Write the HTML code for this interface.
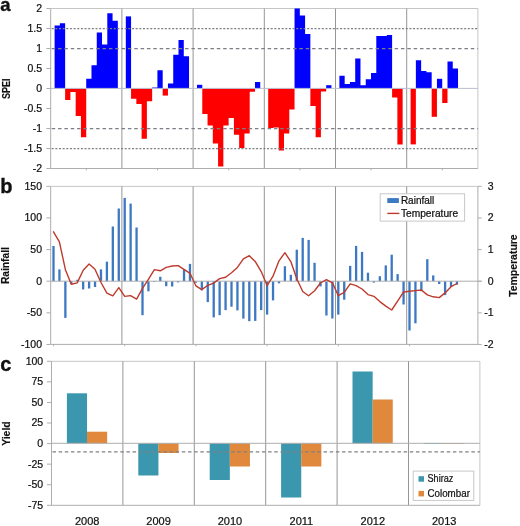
<!DOCTYPE html>
<html><head><meta charset="utf-8"><title>SPEI, rainfall, temperature and yield</title>
<style>html,body{margin:0;padding:0;background:#fff}svg{display:block}text{font-family:"Liberation Sans",sans-serif;fill:#111}.t,.x,.lg{stroke:#111;stroke-width:0.22px}.t{font-size:10.5px}.x{font-size:11px}.b{font-weight:bold;font-size:10.4px;stroke:#111;stroke-width:0.15px}.L{font-weight:bold;font-size:18.5px;fill:#111;stroke:#111;stroke-width:0.35px}.lg{font-size:10px}</style></head><body>
<svg width="520" height="526" viewBox="0 0 520 526">
<rect width="520" height="526" fill="#fff"/>
<g id="panel-a">
<path d="M50.7 8.5H477.90000000000003V168.5" fill="none" stroke="#c6c6c6" stroke-width="1"/>
<line x1="121.9" y1="8.5" x2="121.9" y2="168.5" stroke="#969696" stroke-width="1"/>
<line x1="193.1" y1="8.5" x2="193.1" y2="168.5" stroke="#969696" stroke-width="1"/>
<line x1="264.3" y1="8.5" x2="264.3" y2="168.5" stroke="#969696" stroke-width="1"/>
<line x1="335.5" y1="8.5" x2="335.5" y2="168.5" stroke="#969696" stroke-width="1"/>
<line x1="406.7" y1="8.5" x2="406.7" y2="168.5" stroke="#969696" stroke-width="1"/>
<path d="M54.60 88.40L54.60 25.40L59.87 25.40L59.87 23.20L65.14 23.20L65.14 88.40Z" fill="#0000fe"/>
<path d="M65.14 88.40L65.14 100.00L70.41 100.00L70.41 92.00L75.68 92.00L75.68 116.00L80.95 116.00L80.95 137.20L86.22 137.20L86.22 88.40Z" fill="#fe0000"/>
<path d="M86.22 88.40L86.22 78.80L91.49 78.80L91.49 65.20L96.76 65.20L96.76 32.40L102.03 32.40L102.03 44.40L107.30 44.40L107.30 13.20L112.57 13.20L112.57 20.80L117.84 20.80L117.84 88.40Z" fill="#0000fe"/>
<path d="M125.80 88.40L125.80 16.40L131.07 16.40L131.07 88.40Z" fill="#0000fe"/>
<path d="M131.07 88.40L131.07 98.80L136.34 98.80L136.34 104.00L141.61 104.00L141.61 138.80L146.88 138.80L146.88 101.20L152.15 101.20L152.15 88.40Z" fill="#fe0000"/>
<path d="M152.15 88.40L152.15 87.60L157.42 87.60L157.42 70.20L162.69 70.20L162.69 88.40Z" fill="#0000fe"/>
<path d="M162.69 88.40L162.69 95.60L167.96 95.60L167.96 88.40Z" fill="#fe0000"/>
<path d="M167.96 88.40L167.96 83.40L173.23 83.40L173.23 54.80L178.50 54.80L178.50 40.00L183.77 40.00L183.77 56.20L189.04 56.20L189.04 88.40Z" fill="#0000fe"/>
<path d="M197.00 88.40L197.00 84.80L202.27 84.80L202.27 88.40Z" fill="#0000fe"/>
<path d="M202.27 88.40L202.27 114.00L207.54 114.00L207.54 125.60L212.81 125.60L212.81 143.40L218.08 143.40L218.08 166.40L223.35 166.40L223.35 125.60L228.62 125.60L228.62 118.00L233.89 118.00L233.89 134.80L239.16 134.80L239.16 148.00L244.43 148.00L244.43 133.60L249.70 133.60L249.70 91.80L254.97 91.80L254.97 88.40Z" fill="#fe0000"/>
<path d="M254.97 88.40L254.97 82.00L260.24 82.00L260.24 88.40Z" fill="#0000fe"/>
<path d="M268.20 88.40L268.20 128.00L273.47 128.00L273.47 127.60L278.74 127.60L278.74 150.60L284.01 150.60L284.01 133.60L289.28 133.60L289.28 109.60L294.55 109.60L294.55 88.40Z" fill="#fe0000"/>
<path d="M294.55 88.40L294.55 8.40L299.82 8.40L299.82 15.60L305.09 15.60L305.09 34.00L310.36 34.00L310.36 88.40Z" fill="#0000fe"/>
<path d="M310.36 88.40L310.36 106.00L315.63 106.00L315.63 137.20L320.90 137.20L320.90 91.60L326.17 91.60L326.17 88.40Z" fill="#fe0000"/>
<path d="M326.17 88.40L326.17 85.20L331.44 85.20L331.44 88.40Z" fill="#0000fe"/>
<path d="M339.40 88.40L339.40 75.80L344.67 75.80L344.67 84.00L349.94 84.00L349.94 82.00L355.21 82.00L355.21 58.40L360.48 58.40L360.48 85.20L365.75 85.20L365.75 79.20L371.02 79.20L371.02 73.00L376.29 73.00L376.29 36.00L381.56 36.00L381.56 36.00L386.83 36.00L386.83 35.00L392.10 35.00L392.10 88.40Z" fill="#0000fe"/>
<path d="M392.10 88.40L392.10 97.60L397.37 97.60L397.37 144.40L402.64 144.40L402.64 88.40Z" fill="#fe0000"/>
<path d="M410.60 88.40L410.60 144.40L415.87 144.40L415.87 88.40Z" fill="#fe0000"/>
<path d="M415.87 88.40L415.87 60.20L421.14 60.20L421.14 71.00L426.41 71.00L426.41 72.20L431.68 72.20L431.68 88.40Z" fill="#0000fe"/>
<path d="M431.68 88.40L431.68 116.80L436.95 116.80L436.95 88.40Z" fill="#fe0000"/>
<path d="M436.95 88.40L436.95 78.80L442.22 78.80L442.22 88.40Z" fill="#0000fe"/>
<path d="M442.22 88.40L442.22 103.00L447.49 103.00L447.49 88.40Z" fill="#fe0000"/>
<path d="M447.49 88.40L447.49 61.40L452.76 61.40L452.76 68.40L458.03 68.40L458.03 88.40Z" fill="#0000fe"/>
<line x1="50.7" y1="88.4" x2="477.90000000000003" y2="88.4" stroke="#b9bdd0" stroke-width="1"/>
<line x1="51.7" y1="48.70" x2="477.90000000000003" y2="48.70" stroke="#7e7e86" stroke-width="1.2" stroke-dasharray="3.5 2.85"/>
<line x1="51.7" y1="128.70" x2="477.90000000000003" y2="128.70" stroke="#7e7e86" stroke-width="1.2" stroke-dasharray="3.5 2.85"/>
<line x1="51.7" y1="28.70" x2="477.90000000000003" y2="28.70" stroke="#7e7e86" stroke-width="1.2" stroke-dasharray="2 1.65"/>
<line x1="51.7" y1="148.70" x2="477.90000000000003" y2="148.70" stroke="#7e7e86" stroke-width="1.2" stroke-dasharray="2 1.65"/>
<path d="M50.7 8.5V168.5H477.90000000000003" fill="none" stroke="#adadad" stroke-width="1"/>
<line x1="46.400000000000006" y1="8.5" x2="50.7" y2="8.5" stroke="#adadad" stroke-width="1"/>
<text class="t" x="42" y="11.7" text-anchor="end">2</text>
<line x1="46.400000000000006" y1="28.5" x2="50.7" y2="28.5" stroke="#adadad" stroke-width="1"/>
<text class="t" x="42" y="31.7" text-anchor="end">1.5</text>
<line x1="46.400000000000006" y1="48.5" x2="50.7" y2="48.5" stroke="#adadad" stroke-width="1"/>
<text class="t" x="42" y="51.7" text-anchor="end">1</text>
<line x1="46.400000000000006" y1="68.5" x2="50.7" y2="68.5" stroke="#adadad" stroke-width="1"/>
<text class="t" x="42" y="71.7" text-anchor="end">0.5</text>
<line x1="46.400000000000006" y1="88.5" x2="50.7" y2="88.5" stroke="#adadad" stroke-width="1"/>
<text class="t" x="42" y="91.7" text-anchor="end">0</text>
<line x1="46.400000000000006" y1="108.5" x2="50.7" y2="108.5" stroke="#adadad" stroke-width="1"/>
<text class="t" x="42" y="111.7" text-anchor="end">-0.5</text>
<line x1="46.400000000000006" y1="128.5" x2="50.7" y2="128.5" stroke="#adadad" stroke-width="1"/>
<text class="t" x="42" y="131.7" text-anchor="end">-1</text>
<line x1="46.400000000000006" y1="148.5" x2="50.7" y2="148.5" stroke="#adadad" stroke-width="1"/>
<text class="t" x="42" y="151.7" text-anchor="end">-1.5</text>
<line x1="46.400000000000006" y1="168.5" x2="50.7" y2="168.5" stroke="#adadad" stroke-width="1"/>
<text class="t" x="42" y="171.7" text-anchor="end">-2</text>
<line x1="86.3" y1="168.5" x2="86.3" y2="170.3" stroke="#adadad" stroke-width="1"/>
<line x1="157.5" y1="168.5" x2="157.5" y2="170.3" stroke="#adadad" stroke-width="1"/>
<line x1="228.7" y1="168.5" x2="228.7" y2="170.3" stroke="#adadad" stroke-width="1"/>
<line x1="299.9" y1="168.5" x2="299.9" y2="170.3" stroke="#adadad" stroke-width="1"/>
<line x1="371.1" y1="168.5" x2="371.1" y2="170.3" stroke="#adadad" stroke-width="1"/>
<line x1="442.3" y1="168.5" x2="442.3" y2="170.3" stroke="#adadad" stroke-width="1"/>
<text class="b" transform="translate(9.6 88.8) rotate(-90)" text-anchor="middle" textLength="20.6" lengthAdjust="spacingAndGlyphs">SPEI</text>
<text class="L" x="0.2" y="11.3">a</text>
</g>
<g id="panel-b">
<path d="M50.7 186.4H477.90000000000003" fill="none" stroke="#c6c6c6" stroke-width="1"/>
<line x1="121.9" y1="186.4" x2="121.9" y2="344.4" stroke="#969696" stroke-width="1"/>
<line x1="193.1" y1="186.4" x2="193.1" y2="344.4" stroke="#969696" stroke-width="1"/>
<line x1="264.3" y1="186.4" x2="264.3" y2="344.4" stroke="#969696" stroke-width="1"/>
<line x1="335.5" y1="186.4" x2="335.5" y2="344.4" stroke="#969696" stroke-width="1"/>
<line x1="406.7" y1="186.4" x2="406.7" y2="344.4" stroke="#969696" stroke-width="1"/>
<rect x="52.35" y="246.00" width="2.3" height="35.20" fill="#3d78c3"/>
<rect x="58.28" y="269.40" width="2.3" height="11.80" fill="#3d78c3"/>
<rect x="64.22" y="281.20" width="2.3" height="36.70" fill="#3d78c3"/>
<rect x="70.15" y="281.20" width="2.3" height="2.70" fill="#3d78c3"/>
<rect x="76.08" y="279.80" width="2.3" height="1.40" fill="#3d78c3"/>
<rect x="82.02" y="281.20" width="2.3" height="8.20" fill="#3d78c3"/>
<rect x="87.95" y="281.20" width="2.3" height="7.30" fill="#3d78c3"/>
<rect x="93.88" y="281.20" width="2.3" height="5.80" fill="#3d78c3"/>
<rect x="99.82" y="269.40" width="2.3" height="11.80" fill="#3d78c3"/>
<rect x="105.75" y="261.70" width="2.3" height="19.50" fill="#3d78c3"/>
<rect x="111.68" y="226.50" width="2.3" height="54.70" fill="#3d78c3"/>
<rect x="117.62" y="208.50" width="2.3" height="72.70" fill="#3d78c3"/>
<rect x="123.55" y="197.90" width="2.3" height="83.30" fill="#3d78c3"/>
<rect x="129.48" y="203.60" width="2.3" height="77.60" fill="#3d78c3"/>
<rect x="135.42" y="227.50" width="2.3" height="53.70" fill="#3d78c3"/>
<rect x="141.35" y="281.20" width="2.3" height="34.00" fill="#3d78c3"/>
<rect x="147.28" y="281.20" width="2.3" height="10.10" fill="#3d78c3"/>
<rect x="153.22" y="281.20" width="2.3" height="0.70" fill="#3d78c3"/>
<rect x="159.15" y="276.80" width="2.3" height="4.40" fill="#3d78c3"/>
<rect x="165.08" y="281.20" width="2.3" height="5.00" fill="#3d78c3"/>
<rect x="171.02" y="281.20" width="2.3" height="5.30" fill="#3d78c3"/>
<rect x="176.95" y="281.20" width="2.3" height="1.20" fill="#3d78c3"/>
<rect x="182.88" y="269.10" width="2.3" height="12.10" fill="#3d78c3"/>
<rect x="188.82" y="263.90" width="2.3" height="17.30" fill="#3d78c3"/>
<rect x="194.75" y="281.20" width="2.3" height="1.50" fill="#3d78c3"/>
<rect x="200.68" y="281.20" width="2.3" height="9.20" fill="#3d78c3"/>
<rect x="206.62" y="281.20" width="2.3" height="20.90" fill="#3d78c3"/>
<rect x="212.55" y="281.20" width="2.3" height="36.20" fill="#3d78c3"/>
<rect x="218.48" y="281.20" width="2.3" height="34.00" fill="#3d78c3"/>
<rect x="224.42" y="281.20" width="2.3" height="28.90" fill="#3d78c3"/>
<rect x="230.35" y="281.20" width="2.3" height="25.50" fill="#3d78c3"/>
<rect x="236.28" y="281.20" width="2.3" height="29.20" fill="#3d78c3"/>
<rect x="242.22" y="281.20" width="2.3" height="37.40" fill="#3d78c3"/>
<rect x="248.15" y="281.20" width="2.3" height="40.00" fill="#3d78c3"/>
<rect x="254.08" y="281.20" width="2.3" height="39.70" fill="#3d78c3"/>
<rect x="260.02" y="281.20" width="2.3" height="28.90" fill="#3d78c3"/>
<rect x="265.95" y="281.20" width="2.3" height="33.40" fill="#3d78c3"/>
<rect x="271.88" y="281.20" width="2.3" height="19.20" fill="#3d78c3"/>
<rect x="277.82" y="281.20" width="2.3" height="2.10" fill="#3d78c3"/>
<rect x="283.75" y="266.20" width="2.3" height="15.00" fill="#3d78c3"/>
<rect x="289.68" y="274.80" width="2.3" height="6.40" fill="#3d78c3"/>
<rect x="295.62" y="249.70" width="2.3" height="31.50" fill="#3d78c3"/>
<rect x="301.55" y="237.90" width="2.3" height="43.30" fill="#3d78c3"/>
<rect x="307.48" y="239.90" width="2.3" height="41.30" fill="#3d78c3"/>
<rect x="313.42" y="262.80" width="2.3" height="18.40" fill="#3d78c3"/>
<rect x="319.35" y="281.20" width="2.3" height="5.20" fill="#3d78c3"/>
<rect x="325.28" y="281.20" width="2.3" height="34.30" fill="#3d78c3"/>
<rect x="331.22" y="281.20" width="2.3" height="37.30" fill="#3d78c3"/>
<rect x="337.15" y="281.20" width="2.3" height="33.40" fill="#3d78c3"/>
<rect x="343.08" y="281.20" width="2.3" height="18.50" fill="#3d78c3"/>
<rect x="349.02" y="265.90" width="2.3" height="15.30" fill="#3d78c3"/>
<rect x="354.95" y="245.90" width="2.3" height="35.30" fill="#3d78c3"/>
<rect x="360.88" y="251.90" width="2.3" height="29.30" fill="#3d78c3"/>
<rect x="366.82" y="272.70" width="2.3" height="8.50" fill="#3d78c3"/>
<rect x="372.75" y="281.20" width="2.3" height="1.40" fill="#3d78c3"/>
<rect x="378.68" y="276.20" width="2.3" height="5.00" fill="#3d78c3"/>
<rect x="384.62" y="265.40" width="2.3" height="15.80" fill="#3d78c3"/>
<rect x="390.55" y="254.70" width="2.3" height="26.50" fill="#3d78c3"/>
<rect x="396.48" y="274.10" width="2.3" height="7.10" fill="#3d78c3"/>
<rect x="402.42" y="281.20" width="2.3" height="23.30" fill="#3d78c3"/>
<rect x="408.35" y="281.20" width="2.3" height="49.30" fill="#3d78c3"/>
<rect x="414.28" y="281.20" width="2.3" height="42.10" fill="#3d78c3"/>
<rect x="420.22" y="281.20" width="2.3" height="10.00" fill="#3d78c3"/>
<rect x="426.15" y="259.20" width="2.3" height="22.00" fill="#3d78c3"/>
<rect x="432.08" y="275.40" width="2.3" height="5.80" fill="#3d78c3"/>
<rect x="438.02" y="281.20" width="2.3" height="2.80" fill="#3d78c3"/>
<rect x="443.95" y="281.20" width="2.3" height="13.90" fill="#3d78c3"/>
<rect x="449.88" y="281.20" width="2.3" height="5.70" fill="#3d78c3"/>
<rect x="455.82" y="281.20" width="2.3" height="3.50" fill="#3d78c3"/>
<line x1="50.7" y1="281.2" x2="481.70000000000005" y2="281.2" stroke="#adadad" stroke-width="1"/>
<polyline points="53.5,231.8 59.4,241.9 65.4,269.7 71.3,284.2 77.2,282.9 83.2,270.2 89.1,264.0 95.0,269.2 101.0,282.5 106.9,293.1 112.8,295.8 118.8,287.6 124.7,296.4 130.6,295.6 136.6,299.1 142.5,288.4 148.4,279.3 154.4,269.6 160.3,270.8 166.2,267.4 172.2,266.0 178.1,265.6 184.0,269.4 190.0,273.3 195.9,285.8 201.8,289.6 207.8,285.3 213.7,283.1 219.6,278.6 225.6,277.3 231.5,272.8 237.4,267.4 243.4,258.8 249.3,255.7 255.2,261.4 261.2,271.6 267.1,285.6 273.0,276.2 279.0,260.8 284.9,252.7 290.8,261.6 296.8,278.7 302.7,291.5 308.6,295.8 314.6,290.7 320.5,283.0 326.4,279.6 332.4,282.8 338.3,295.6 344.2,292.4 350.2,283.8 356.1,285.6 362.0,289.0 368.0,294.6 373.9,296.3 379.8,301.6 385.8,306.1 391.7,310.0 397.6,301.1 403.6,292.0 409.5,291.2 415.4,290.6 421.4,290.0 427.3,294.9 433.2,296.8 439.2,297.6 445.1,292.9 451.0,286.7 457.0,283.5" fill="none" stroke="#be3a2c" stroke-width="1.4" stroke-linejoin="round" stroke-linecap="round"/>
<path d="M50.7 186.4V344.4H477.90000000000003" fill="none" stroke="#adadad" stroke-width="1"/>
<line x1="477.90000000000003" y1="186.4" x2="477.90000000000003" y2="344.4" stroke="#adadad" stroke-width="1"/>
<line x1="46.400000000000006" y1="186.31" x2="50.7" y2="186.31" stroke="#adadad" stroke-width="1"/>
<text class="t" x="42" y="189.6" text-anchor="end">150</text>
<line x1="477.90000000000003" y1="186.31" x2="481.70000000000005" y2="186.31" stroke="#adadad" stroke-width="1"/>
<text class="t" x="493.6" y="189.6" text-anchor="end">3</text>
<line x1="46.400000000000006" y1="217.94" x2="50.7" y2="217.94" stroke="#adadad" stroke-width="1"/>
<text class="t" x="42" y="221.2" text-anchor="end">100</text>
<line x1="477.90000000000003" y1="217.94" x2="481.70000000000005" y2="217.94" stroke="#adadad" stroke-width="1"/>
<text class="t" x="493.6" y="221.2" text-anchor="end">2</text>
<line x1="46.400000000000006" y1="249.57" x2="50.7" y2="249.57" stroke="#adadad" stroke-width="1"/>
<text class="t" x="42" y="252.9" text-anchor="end">50</text>
<line x1="477.90000000000003" y1="249.57" x2="481.70000000000005" y2="249.57" stroke="#adadad" stroke-width="1"/>
<text class="t" x="493.6" y="252.9" text-anchor="end">1</text>
<line x1="46.400000000000006" y1="281.20" x2="50.7" y2="281.20" stroke="#adadad" stroke-width="1"/>
<text class="t" x="42" y="284.5" text-anchor="end">0</text>
<line x1="477.90000000000003" y1="281.20" x2="481.70000000000005" y2="281.20" stroke="#adadad" stroke-width="1"/>
<text class="t" x="493.6" y="284.5" text-anchor="end">0</text>
<line x1="46.400000000000006" y1="312.83" x2="50.7" y2="312.83" stroke="#adadad" stroke-width="1"/>
<text class="t" x="42" y="316.1" text-anchor="end">-50</text>
<line x1="477.90000000000003" y1="312.83" x2="481.70000000000005" y2="312.83" stroke="#adadad" stroke-width="1"/>
<text class="t" x="493.6" y="316.1" text-anchor="end">-1</text>
<line x1="46.400000000000006" y1="344.46" x2="50.7" y2="344.46" stroke="#adadad" stroke-width="1"/>
<text class="t" x="42" y="347.8" text-anchor="end">-100</text>
<line x1="477.90000000000003" y1="344.46" x2="481.70000000000005" y2="344.46" stroke="#adadad" stroke-width="1"/>
<text class="t" x="493.6" y="347.8" text-anchor="end">-2</text>
<line x1="53.5" y1="344.4" x2="53.5" y2="346.2" stroke="#adadad" stroke-width="1"/>
<line x1="124.7" y1="344.4" x2="124.7" y2="346.2" stroke="#adadad" stroke-width="1"/>
<line x1="195.9" y1="344.4" x2="195.9" y2="346.2" stroke="#adadad" stroke-width="1"/>
<line x1="267.1" y1="344.4" x2="267.1" y2="346.2" stroke="#adadad" stroke-width="1"/>
<line x1="338.3" y1="344.4" x2="338.3" y2="346.2" stroke="#adadad" stroke-width="1"/>
<line x1="409.5" y1="344.4" x2="409.5" y2="346.2" stroke="#adadad" stroke-width="1"/>
<text class="b" transform="translate(9.3 265.6) rotate(-90)" text-anchor="middle" textLength="37" lengthAdjust="spacingAndGlyphs">Rainfall</text>
<text class="b" transform="translate(517 265.6) rotate(-90)" text-anchor="middle" textLength="62.5" lengthAdjust="spacingAndGlyphs">Temperature</text>
<text class="L" x="0.2" y="193.2" style="font-size:20px">b</text>
<rect x="380.2" y="193.8" width="84.4" height="27.3" fill="#fff" stroke="#c8c8c8" stroke-width="1"/>
<rect x="387.3" y="198.1" width="11.6" height="4.9" fill="#3d78c3"/>
<line x1="387.3" y1="213.4" x2="399.4" y2="213.4" stroke="#be3a2c" stroke-width="1.4"/>
<text class="lg" x="400.9" y="204">Rainfall</text>
<text class="lg" x="400.9" y="217.3" textLength="57.3" lengthAdjust="spacingAndGlyphs">Temperature</text>
</g>
<g id="panel-c">
<path d="M51.5 361.3H479.90000000000003V505.3" fill="none" stroke="#c6c6c6" stroke-width="1"/>
<line x1="122.9" y1="361.3" x2="122.9" y2="505.3" stroke="#969696" stroke-width="1"/>
<line x1="194.3" y1="361.3" x2="194.3" y2="505.3" stroke="#969696" stroke-width="1"/>
<line x1="265.7" y1="361.3" x2="265.7" y2="505.3" stroke="#969696" stroke-width="1"/>
<line x1="337.1" y1="361.3" x2="337.1" y2="505.3" stroke="#969696" stroke-width="1"/>
<line x1="408.5" y1="361.3" x2="408.5" y2="505.3" stroke="#969696" stroke-width="1"/>
<rect x="66.90" y="393.30" width="20.15" height="50.00" fill="#3b97ae"/>
<rect x="87.00" y="431.70" width="20.15" height="11.60" fill="#e0883b"/>
<rect x="138.30" y="443.30" width="20.15" height="32.20" fill="#3b97ae"/>
<rect x="158.40" y="443.30" width="20.15" height="9.70" fill="#e0883b"/>
<rect x="209.70" y="443.30" width="20.15" height="36.70" fill="#3b97ae"/>
<rect x="229.80" y="443.30" width="20.15" height="23.20" fill="#e0883b"/>
<rect x="281.10" y="443.30" width="20.15" height="54.20" fill="#3b97ae"/>
<rect x="301.20" y="443.30" width="20.15" height="23.20" fill="#e0883b"/>
<rect x="352.50" y="371.50" width="20.15" height="71.80" fill="#3b97ae"/>
<rect x="372.60" y="399.50" width="20.15" height="43.80" fill="#e0883b"/>
<rect x="423.90" y="443.30" width="20.15" height="0.70" fill="#3b97ae"/>
<rect x="444.00" y="443.30" width="20.15" height="0.70" fill="#e0883b"/>
<line x1="51.5" y1="443.3" x2="479.90000000000003" y2="443.3" stroke="#adadad" stroke-width="1"/>
<line x1="52.5" y1="451.9" x2="479.90000000000003" y2="451.9" stroke="#808084" stroke-width="1.3" stroke-dasharray="3.5 2.66"/>
<path d="M51.5 361.3V505.3H479.90000000000003" fill="none" stroke="#adadad" stroke-width="1"/>
<line x1="46.9" y1="361.30" x2="51.5" y2="361.30" stroke="#adadad" stroke-width="1"/>
<text class="t" x="43.2" y="364.6" text-anchor="end">100</text>
<line x1="46.9" y1="381.87" x2="51.5" y2="381.87" stroke="#adadad" stroke-width="1"/>
<text class="t" x="43.2" y="385.2" text-anchor="end">75</text>
<line x1="46.9" y1="402.44" x2="51.5" y2="402.44" stroke="#adadad" stroke-width="1"/>
<text class="t" x="43.2" y="405.7" text-anchor="end">50</text>
<line x1="46.9" y1="423.01" x2="51.5" y2="423.01" stroke="#adadad" stroke-width="1"/>
<text class="t" x="43.2" y="426.3" text-anchor="end">25</text>
<line x1="46.9" y1="443.59" x2="51.5" y2="443.59" stroke="#adadad" stroke-width="1"/>
<text class="t" x="43.2" y="446.9" text-anchor="end">0</text>
<line x1="46.9" y1="464.16" x2="51.5" y2="464.16" stroke="#adadad" stroke-width="1"/>
<text class="t" x="43.2" y="467.5" text-anchor="end">-25</text>
<line x1="46.9" y1="484.73" x2="51.5" y2="484.73" stroke="#adadad" stroke-width="1"/>
<text class="t" x="43.2" y="488.0" text-anchor="end">-50</text>
<line x1="46.9" y1="505.30" x2="51.5" y2="505.30" stroke="#adadad" stroke-width="1"/>
<text class="t" x="43.2" y="508.6" text-anchor="end">-75</text>
<text class="x" text-anchor="middle" x="87.2" y="525.4">2008</text>
<text class="x" text-anchor="middle" x="158.6" y="525.4">2009</text>
<text class="x" text-anchor="middle" x="230.0" y="525.4">2010</text>
<text class="x" text-anchor="middle" x="301.4" y="525.4">2011</text>
<text class="x" text-anchor="middle" x="372.8" y="525.4">2012</text>
<text class="x" text-anchor="middle" x="444.2" y="525.4">2013</text>
<text class="b" transform="translate(10.0 433.6) rotate(-90)" text-anchor="middle">Yield</text>
<text class="L" x="0.2" y="371.1" style="font-size:20px">c</text>
<rect x="413.2" y="471.1" width="60.6" height="29.3" fill="#fff" stroke="#c8c8c8" stroke-width="1"/>
<rect x="418.5" y="476.2" width="5.5" height="5.5" fill="#3b97ae"/>
<rect x="418.5" y="490.9" width="5.5" height="5.5" fill="#e0883b"/>
<text class="lg" x="427.5" y="482.2" textLength="25.9" lengthAdjust="spacingAndGlyphs">Shiraz</text>
<text class="lg" x="427.5" y="496.9" textLength="42.4" lengthAdjust="spacingAndGlyphs">Colombar</text>
</g>
</svg></body></html>
